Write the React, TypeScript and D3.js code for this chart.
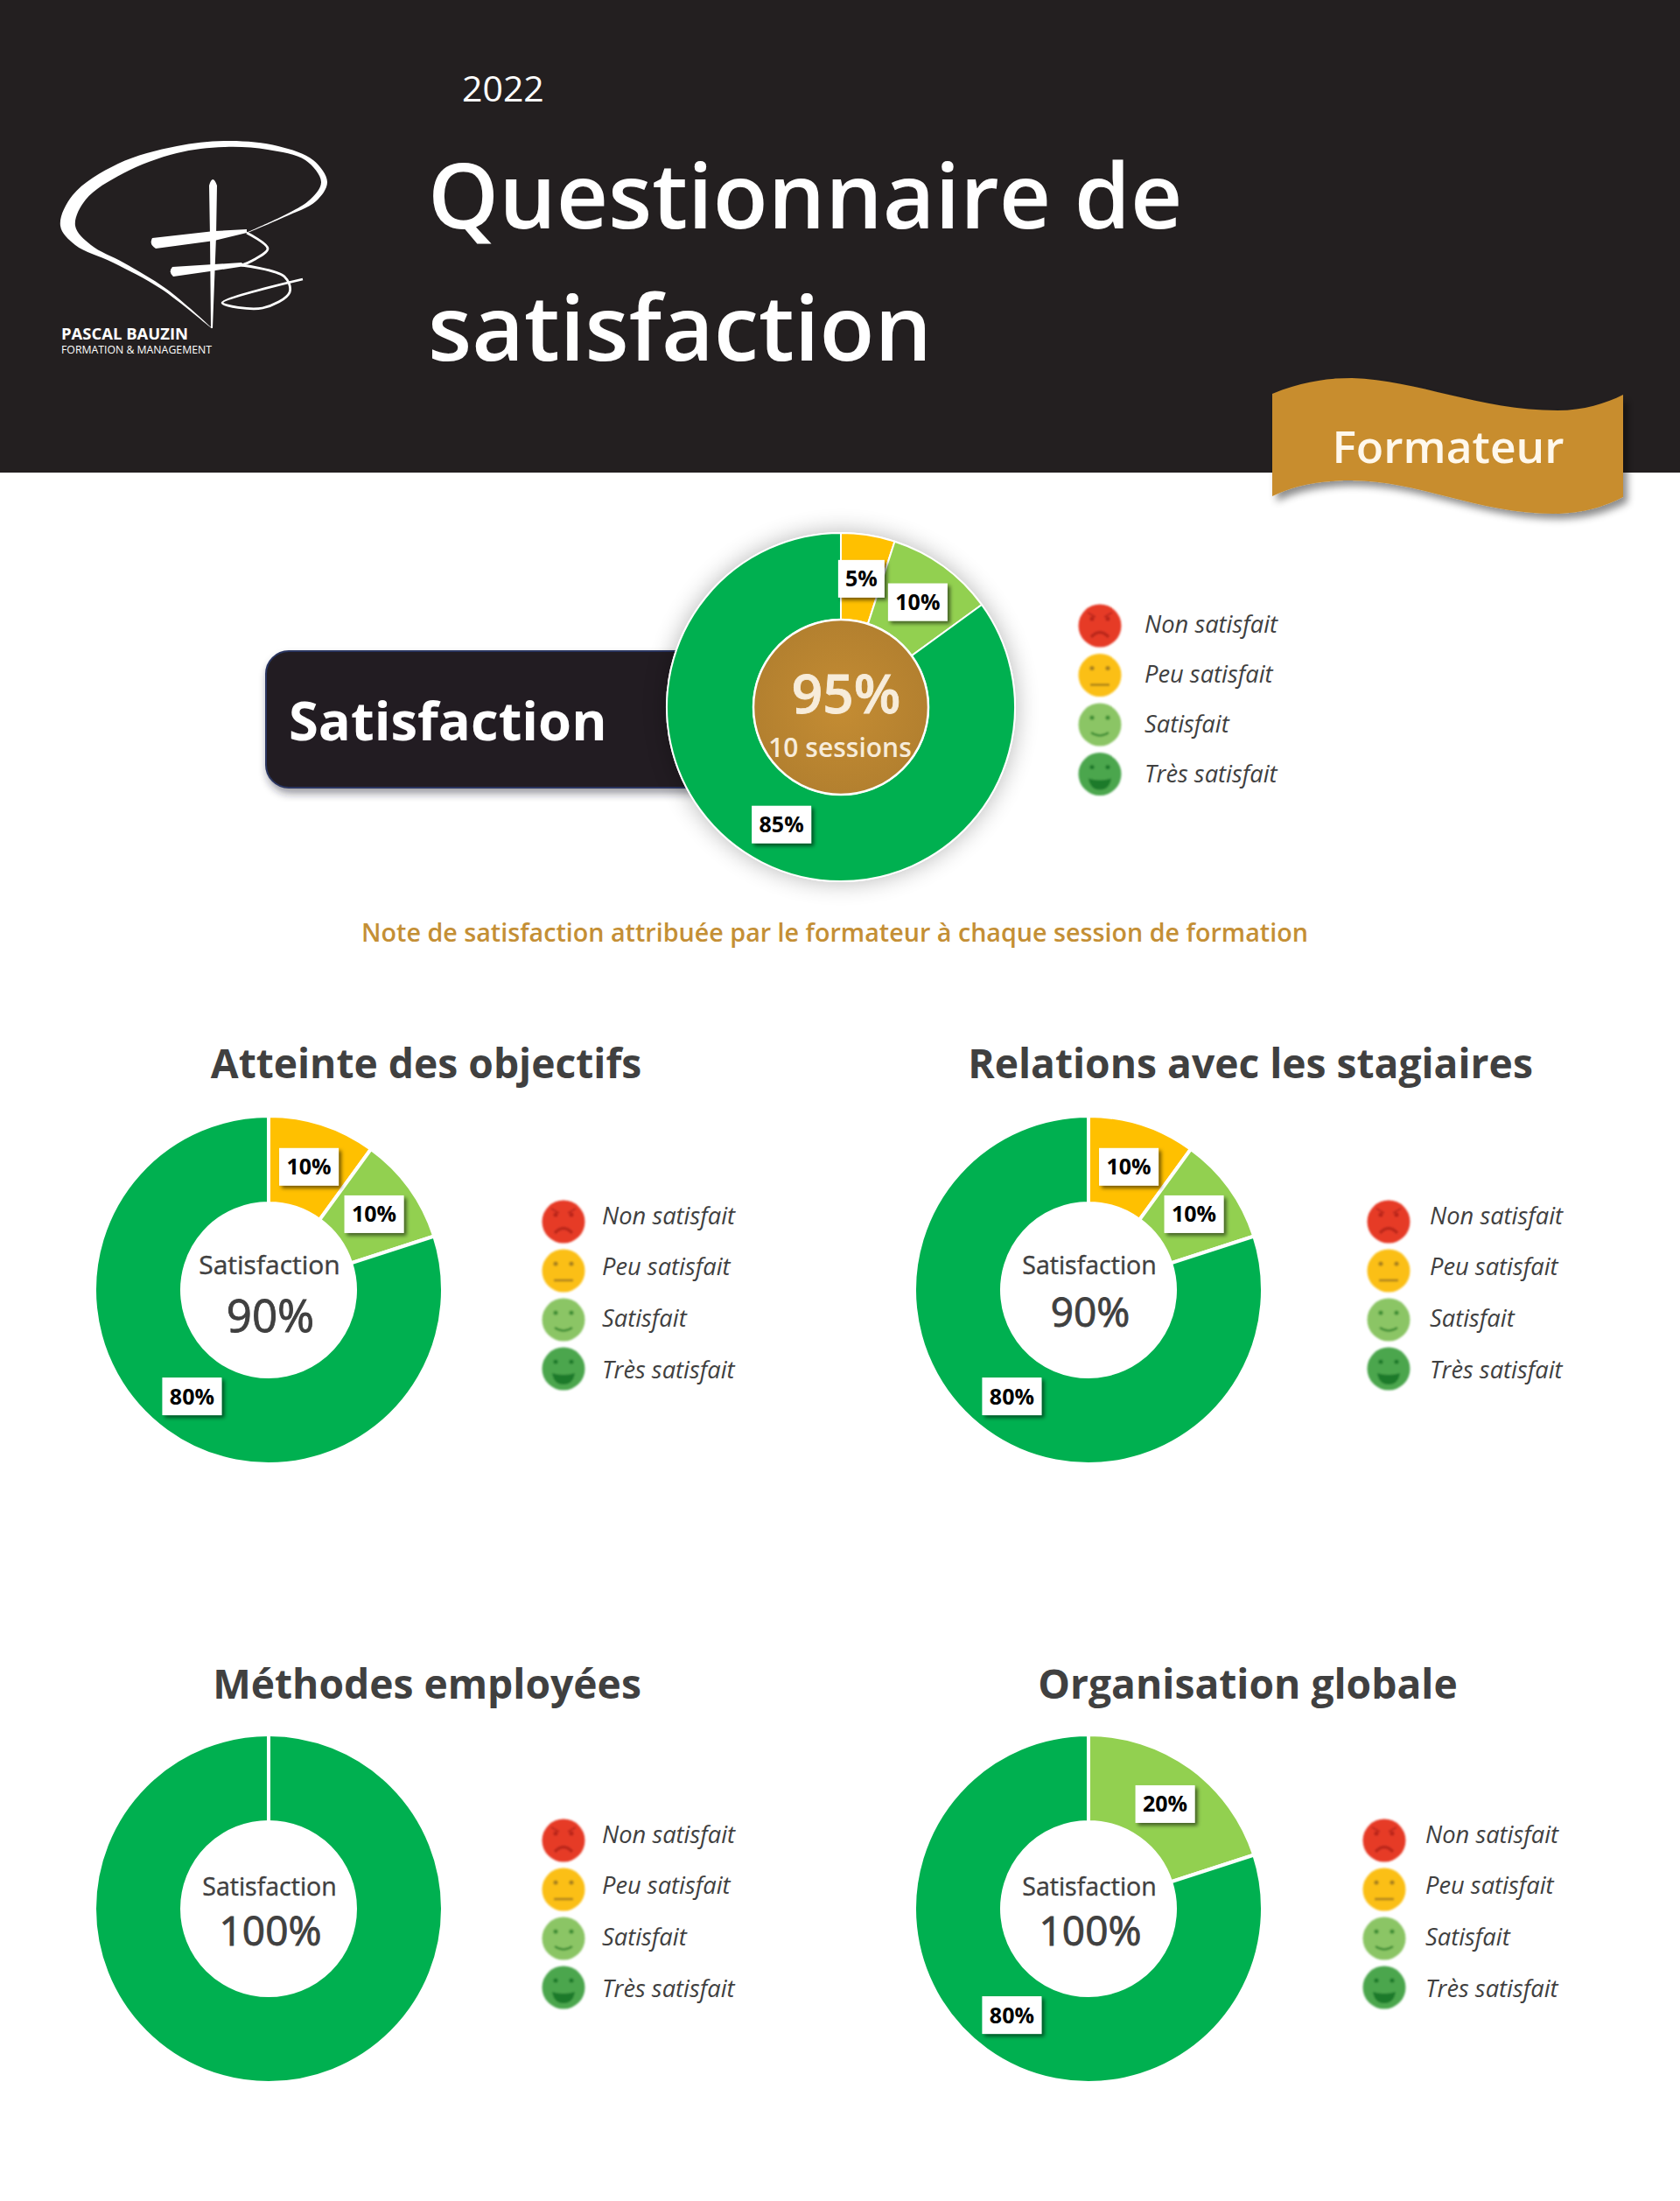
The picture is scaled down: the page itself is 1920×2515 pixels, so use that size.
import * as d3 from "d3";

const categories = ["Non satisfait", "Peu satisfait", "Satisfait", "Très satisfait"];
const sliceColors = ["#e8392a", "#ffc000", "#92d050", "#00b050"];
const faceColors = ["#e63a26", "#fbbf12", "#8bc565", "#4ba64e"];
const faceInk = ["#b9281c", "#a8801a", "#3f8f35", "#1f7a2c"];

const formateurValues = [0, 5, 10, 85];
const objectifsValues = [0, 10, 10, 80];
const relationsValues = [0, 10, 10, 80];
const methodesValues = [0, 0, 0, 100];
const organisationValues = [0, 0, 20, 80];

const FONT = "'Open Sans', sans-serif";
const DARK = "#231f20";
const GOLD = "#c88d2e";
const INK = "#404040";

const pie = d3.pie<number>().sort(null).value((d) => d);

function Donut({ cx, cy, values, outer, inner, gap, labelFont, boxH, shadow }: {
  cx: number; cy: number; values: number[]; outer: number; inner: number; gap: number;
  labelFont: number; boxH: number; shadow?: boolean;
}) {
  const arc = d3.arc<d3.PieArcDatum<number>>().innerRadius(inner).outerRadius(outer);
  const slices = pie(values).map((s, i) => ({ ...s, color: sliceColors[i] })).filter((s) => s.value > 0);
  return (
    <g transform={`translate(${cx},${cy})`}>
      {shadow && <circle r={outer} fill="#000" opacity={0.3} filter="url(#softGlow)" />}
      {shadow && <circle r={outer + 1} fill="#fff" />}
      {slices.map((s) => (
        <path key={s.index} d={arc(s) ?? ""} fill={s.color} stroke="#fff" strokeWidth={gap} />
      ))}
      {/* a full ring has no radial edge, the original still shows the seam at 12 o'clock */}
      {slices.filter((s) => s.value === 100).map((s) => {
        const [x1, y1] = d3.pointRadial(s.startAngle, inner);
        const [x2, y2] = d3.pointRadial(s.startAngle, outer);
        return <line key="seam" x1={x1} y1={y1} x2={x2} y2={y2} stroke="#fff" strokeWidth={gap} />;
      })}
      {slices.filter((s) => s.value < 100).map((s) => {
        const [lx, ly] = arc.centroid(s);
        const boxW = s.value < 10 ? 53 : 68;
        return (
          <g key={s.index} transform={`translate(${lx},${ly + 1})`}>
            <rect x={-boxW / 2} y={-boxH / 2} width={boxW} height={boxH} fill="#fff" filter="url(#boxShadow)" />
            <text y={labelFont * 0.36} textAnchor="middle" fontFamily={FONT} fontWeight={700} fontSize={labelFont} fill="#000">
              {s.value}%
            </text>
          </g>
        );
      })}
    </g>
  );
}

function Face({ i, cx, cy }: { i: number; cx: number; cy: number }) {
  const ink = faceInk[i];
  return (
    <g transform={`translate(${cx},${cy})`} filter="url(#faceBlur)">
      <circle r={24.5} fill={faceColors[i]} />
      <circle cx={-9} cy={-8} r={2.6} fill={ink} />
      <circle cx={9} cy={-8} r={2.6} fill={ink} />
      {i === 0 && <path d="M-14,-15 L-5,-10 M14,-15 L5,-10" stroke={ink} strokeWidth={2} fill="none" />}
      {i === 0 && <path d="M-10,13 Q0,2 10,13" stroke={ink} strokeWidth={3.5} fill="none" />}
      {i === 1 && <path d="M-11,11 L11,11" stroke={ink} strokeWidth={2.5} fill="none" />}
      {i === 2 && <path d="M-10,9 Q0,16 10,9" stroke={ink} strokeWidth={2.5} fill="none" />}
      {i === 3 && <path d="M-13,5 Q0,9 13,5 Q11,18 0,18 Q-11,18 -13,5Z" fill={ink} />}
    </g>
  );
}

function Legend({ faceX, textX, y, rowFace, rowText, textDy }: { faceX: number; textX: number; y: number; rowFace: number; rowText: number; textDy: number }) {
  return (
    <g>
      {categories.map((c, i) => (
        <g key={c}>
          <Face i={i} cx={faceX} cy={y + i * rowFace} />
          <text x={textX} y={y + textDy + i * rowText} fontFamily={FONT} fontStyle="italic" fontSize={27.3} fill={INK}>
            {c}
          </text>
        </g>
      ))}
    </g>
  );
}

// logo outline
const swoosh: [number, number][] = [
  [242, 375], [184, 330], [129, 300], [86, 280], [69, 258], [83, 223], [135, 187], [202, 167], [263, 161],
  [318, 167], [358, 183], [374, 208], [361, 230], [325, 248], [282, 266],
  [352, 230], [367, 208], [349, 183], [306, 171], [257, 168], [202, 175], [141, 198], [98, 228], [86, 258],
  [104, 280], [141, 300], [190, 330],
];
const upperB: [number, number][] = [[282, 266], [306, 284], [288, 298], [276, 303]];
const lowerB: [number, number][] = [[276, 303], [325, 316], [331, 334], [300, 352], [254, 346], [346, 319]];

function Logo() {
  const closed = d3.line().curve(d3.curveCatmullRomClosed.alpha(0.5));
  const open = d3.line().curve(d3.curveCatmullRom.alpha(0.5));
  return (
    <g fill="#fff">
      <path d={closed(swoosh) ?? ""} />
      <path d="M239,212 Q243,198 248,212 L247,270 L243,375 L241,375 L240,270Z" />
      <path d="M174,272 L245,264 L282,262 L282,266 L245,275 L178,284 Q170,279 174,272Z" />
      <path d="M197,305 L276,300 L280,304 L240,310 L198,316 Q192,311 197,305Z" />
      <g fill="none" stroke="#fff" strokeWidth={2.8}>
        <path d={open(upperB) ?? ""} />
        <path d={open(lowerB) ?? ""} />
      </g>
      <text x={70} y={388} fontFamily={FONT} fontWeight={700} fontSize={18.5} textLength={145} lengthAdjust="spacingAndGlyphs">PASCAL BAUZIN</text>
      <text x={70} y={404} fontFamily={FONT} fontSize={13} textLength={172} lengthAdjust="spacingAndGlyphs">FORMATION &amp; MANAGEMENT</text>
    </g>
  );
}

function Heading({ x, y, children }: { x: number; y: number; children: string }) {
  return <text x={x} y={y} textAnchor="middle" fontFamily={FONT} fontWeight={700} fontSize={46.2} fill={INK}>{children}</text>;
}

function CenterLabel({ cx, y1, y2, big, size1, size2 }: { cx: number; y1: number; y2: number; big: string; size1: number; size2: number }) {
  return (
    <g textAnchor="middle" fontFamily={FONT} fill={INK} stroke={INK}>
      <text x={cx} y={y1} fontSize={size1} strokeWidth={0.4}>Satisfaction</text>
      <text x={cx + 1} y={y2} fontSize={size2} strokeWidth={0.9}>{big}</text>
    </g>
  );
}

export default function App() {
  const donutProps = { outer: 199, inner: 99, gap: 4, labelFont: 25, boxH: 43 };
  return (
    <div style={{ position: "absolute", left: 0, top: 0, width: 1920, height: 2515 }}>
      <svg width={1920} height={2515} style={{ display: "block" }}>
        <defs>
          <filter id="softGlow" x="-30%" y="-30%" width="160%" height="160%"><feGaussianBlur stdDeviation="14" /></filter>
          <filter id="boxShadow" x="-20%" y="-20%" width="150%" height="150%">
            <feDropShadow dx="3" dy="3" stdDeviation="2" floodColor="#000" floodOpacity="0.55" />
          </filter>
          <filter id="faceBlur" x="-20%" y="-20%" width="140%" height="140%"><feGaussianBlur stdDeviation="0.9" /></filter>
          <filter id="ribbonShadow" x="-10%" y="-20%" width="120%" height="150%">
            <feDropShadow dx="5" dy="6" stdDeviation="4" floodColor="#000" floodOpacity="0.45" />
          </filter>
          <filter id="pillShadow" x="-10%" y="-20%" width="120%" height="150%">
            <feDropShadow dx="2" dy="6" stdDeviation="5" floodColor="#223" floodOpacity="0.45" />
          </filter>
          <radialGradient id="brown">
            <stop offset="0%" stopColor="#c48c33" />
            <stop offset="100%" stopColor="#b3802f" />
          </radialGradient>
        </defs>
        <rect width={1920} height={2515} fill="#fff" />

        {/* header */}
        <rect width={1920} height={540} fill={DARK} />
        <Logo />
        <text x={528} y={116} fontFamily={FONT} fontSize={41} fill="#fff">2022</text>
        <g fontFamily={FONT} fontWeight={600} fontSize={103.1} fill="#fff">
          <text x={489} y={261}>Questionnaire de</text>
          <text x={489} y={412}>satisfaction</text>
        </g>
        <path d="M1454,450 C1490,435 1520,432 1545,432 C1620,434 1690,469 1780,469 C1810,469 1835,461 1855,451 L1855,568 C1835,578 1810,587 1775,587 C1690,587 1620,549 1545,549 C1515,549 1485,552 1454,567Z"
          fill={GOLD} filter="url(#ribbonShadow)" />
        <text x={1655} y={529} textAnchor="middle" fontFamily={FONT} fontWeight={600} fontSize={51.5} fill="#fff8ec">Formateur</text>

        {/* top block */}
        <rect x={304} y={744} width={520} height={156} rx={26} fill={DARK} stroke="#2a3560" strokeWidth={2} filter="url(#pillShadow)" />
        <text x={330} y={846} fontFamily={FONT} fontWeight={700} fontSize={61.5} fill="#fff">Satisfaction</text>
        <Donut cx={961} cy={808} values={formateurValues} outer={199} inner={100} gap={2} labelFont={25} boxH={43} shadow />
        <g transform="translate(961,808)">
          <circle r={100} fill="url(#brown)" stroke="#fff" strokeWidth={2.5} />
        </g>
        <text x={967} y={815} textAnchor="middle" fontFamily={FONT} fontWeight={600} fontSize={62} fill="#f7ecda" stroke="#f7ecda" strokeWidth={0.8}>95%</text>
        <text x={960} y={865} textAnchor="middle" fontFamily={FONT} fontWeight={600} fontSize={30} fill="#f7ecda">10 sessions</text>
        <Legend faceX={1257} textX={1308} y={715} rowFace={56.5} rowText={57} textDy={8} />
        <text x={954} y={1076} textAnchor="middle" fontFamily={FONT} fontWeight={600} fontSize={28.7} fill="#c48f35">
          Note de satisfaction attribuée par le formateur à chaque session de formation
        </text>

        {/* row 1 */}
        <Heading x={487} y={1232}>Atteinte des objectifs</Heading>
        <Heading x={1429} y={1232}>Relations avec les stagiaires</Heading>
        <Donut cx={307} cy={1474} values={objectifsValues} {...donutProps} />
        <Donut cx={1244} cy={1474} values={relationsValues} {...donutProps} />
        <CenterLabel cx={308} y1={1456} y2={1522} big="90%" size1={30} size2={51} />
        <CenterLabel cx={1245} y1={1456} y2={1516} big="90%" size1={28.5} size2={46} />
        <Legend faceX={644} textX={688} y={1396} rowFace={56} rowText={58.7} textDy={2.5} />
        <Legend faceX={1587} textX={1634} y={1396} rowFace={56} rowText={58.7} textDy={2.5} />

        {/* row 2 */}
        <Heading x={488} y={1941}>Méthodes employées</Heading>
        <Heading x={1426} y={1941}>Organisation globale</Heading>
        <Donut cx={307} cy={2181} values={methodesValues} {...donutProps} />
        <Donut cx={1244} cy={2181} values={organisationValues} {...donutProps} />
        <CenterLabel cx={308} y1={2166} y2={2223} big="100%" size1={28.5} size2={46} />
        <CenterLabel cx={1245} y1={2166} y2={2223} big="100%" size1={28.5} size2={46} />
        <Legend faceX={644} textX={688} y={2103} rowFace={56} rowText={58.7} textDy={2.5} />
        <Legend faceX={1582} textX={1629} y={2103} rowFace={56} rowText={58.7} textDy={2.5} />
      </svg>
    </div>
  );
}
